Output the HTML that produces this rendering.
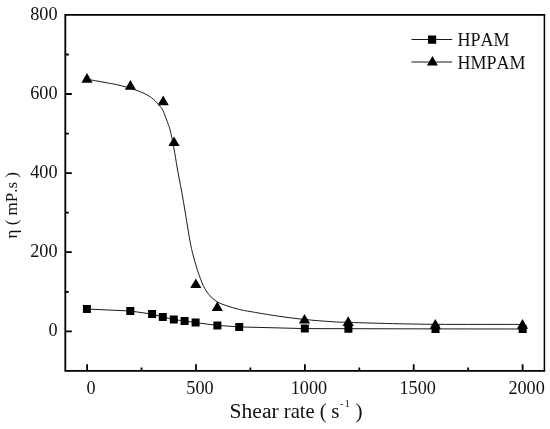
<!DOCTYPE html>
<html><head><meta charset="utf-8"><title>Shear rate</title>
<style>
html,body{margin:0;padding:0;background:#fff;}
svg{display:block;}
text{font-kerning:none;font-family:"Liberation Serif","Times New Roman",serif;fill:#111;}
</style></head><body>
<svg width="550" height="429" viewBox="0 0 550 429">
<rect width="550" height="429" fill="#fff"/>
<path d="M545.15 14.9H65.3V370.9H545.15" fill="none" stroke="#000" stroke-width="1.8" stroke-linejoin="miter"/>
<path d="M544.4 14.9V370.9" fill="none" stroke="#000" stroke-width="1.5"/>
<path d="M87.1 370.9V364.2M196.0 370.9V364.2M304.9 370.9V364.2M413.7 370.9V364.2M522.6 370.9V364.2M141.5 370.9V367.5M250.4 370.9V367.5M359.3 370.9V367.5M468.2 370.9V367.5M65.3 331.3H71.8M65.3 252.2H71.8M65.3 173.1H71.8M65.3 94.0H71.8M65.3 291.8H68.8M65.3 212.7H68.8M65.3 133.6H68.8M65.3 54.5H68.8" stroke="#000" stroke-width="1.8" fill="none"/>
<text x="91.1" y="393.5" font-size="18.2" text-anchor="middle">0</text>
<text x="200.0" y="393.5" font-size="18.2" text-anchor="middle">500</text>
<text x="308.9" y="393.5" font-size="18.2" text-anchor="middle">1000</text>
<text x="417.7" y="393.5" font-size="18.2" text-anchor="middle">1500</text>
<text x="526.6" y="393.5" font-size="18.2" text-anchor="middle">2000</text>
<text x="57.5" y="336.2" font-size="18.2" text-anchor="end">0</text>
<text x="57.5" y="257.1" font-size="18.2" text-anchor="end">200</text>
<text x="57.5" y="178.0" font-size="18.2" text-anchor="end">400</text>
<text x="57.5" y="98.9" font-size="18.2" text-anchor="end">600</text>
<text x="57.5" y="19.8" font-size="18.2" text-anchor="end">800</text>
<text y="417.6"><tspan x="229.5" font-size="21.6">Shear </tspan><tspan x="283.8" font-size="20.6">rate ( </tspan><tspan x="331.3" font-size="21">s</tspan></text>
<text x="340" y="406.8" font-size="10" letter-spacing="1.5">-1</text>
<text x="355.4" y="417.6" font-size="21.2">)</text>
<text transform="translate(17.4 238.5) rotate(-90) scale(1,0.94)" font-size="17">η ( mP.s )</text>
<path d="M87.2 79.4C88.0 79.5 90.6 79.9 92.2 80.2C93.8 80.5 95.2 80.7 97 81C98.8 81.3 100.9 81.7 103 82.1C105.1 82.5 107.4 82.9 109.4 83.3C111.4 83.7 112.3 83.7 115 84.3C117.7 84.9 122.1 86.0 125.5 86.9C128.9 87.8 132.3 88.8 135.4 89.9C138.5 91.0 141.4 92.1 144.1 93.4C146.8 94.7 149.0 95.8 151.4 97.6C153.8 99.4 156.7 102.3 158.6 104.5C160.5 106.7 161.7 108.1 163 110.7C164.3 113.3 165.4 116.8 166.6 120C167.8 123.2 168.8 125.1 170 129.6C171.2 134.1 172.4 140.5 173.7 147.2C175.0 153.9 176.0 161.0 177.6 170C179.2 179.0 181.4 189.6 183.4 201.3C185.4 213.0 188.2 231.2 189.8 240C191.4 248.8 191.5 248.9 192.8 254C194.1 259.1 195.8 265.1 197.5 270.3C199.2 275.6 201.4 281.4 203.3 285.5C205.2 289.6 206.8 292.1 209.1 294.8C211.4 297.5 214.4 300.0 217.3 301.8C220.2 303.6 223.1 304.5 226.6 305.7C230.1 306.9 234.4 308.2 238.3 309.2C242.2 310.2 243.5 310.4 250 311.5C256.5 312.6 268.2 314.7 277.3 316C286.4 317.3 295.4 318.6 304.5 319.5C313.6 320.4 324.5 321.2 331.8 321.7C339.1 322.2 341.4 322.2 348.2 322.4C355.0 322.6 364.1 322.9 372.7 323.1C381.3 323.3 389.6 323.6 400 323.8C410.4 324.0 422.0 324.2 435.3 324.3C448.6 324.4 465.4 324.4 480 324.4C494.6 324.4 515.6 324.4 522.7 324.4" stroke="#1a1a1a" stroke-width="1" fill="none"/>
<path d="M86.9 309 L130.3 311 L152.1 314.1 L162.8 316.9 L173.8 319.5 L184.6 321 L195.6 322.6 L217.4 325.4 L239.2 326.9 L304.8 328.6 L348.4 328.7 L435.5 328.9 L522.7 329.0" stroke="#1a1a1a" stroke-width="1" fill="none"/>
<path d="M82.9 305.0h8v8h-8zM126.3 307.0h8v8h-8zM148.1 310.1h8v8h-8zM158.8 312.9h8v8h-8zM169.8 315.5h8v8h-8zM180.6 317.0h8v8h-8zM191.6 318.6h8v8h-8zM213.4 321.4h8v8h-8zM235.2 322.9h8v8h-8zM300.8 324.6h8v8h-8zM344.4 324.7h8v8h-8zM431.5 324.9h8v8h-8zM518.7 325.0h8v8h-8zM87.0 73.1l5.6 9.6h-11.2zM130.4 80.1l5.6 9.6h-11.2zM163.2 95.6l5.6 9.6h-11.2zM174.0 136.5l5.6 9.6h-11.2zM195.8 278.5l5.6 9.6h-11.2zM217.3 301.4l5.6 9.6h-11.2zM304.5 313.9l5.6 9.6h-11.2zM348.2 316.3l5.6 9.6h-11.2zM435.3 319.1l5.6 9.6h-11.2zM522.5 319.1l5.6 9.6h-11.2z" fill="#000"/>
<path d="M411.5 39.5H452.2M411.5 62H452.2" stroke="#1a1a1a" stroke-width="1"/>
<path d="M428 35.6h8.2v8.2h-8.2zM432.4 56l5.5 9.6h-11z" fill="#000"/>
<text x="457.6" y="46.1" font-size="18">HPAM</text>
<text x="457.6" y="68.6" font-size="18">HMPAM</text>
</svg>
</body></html>
